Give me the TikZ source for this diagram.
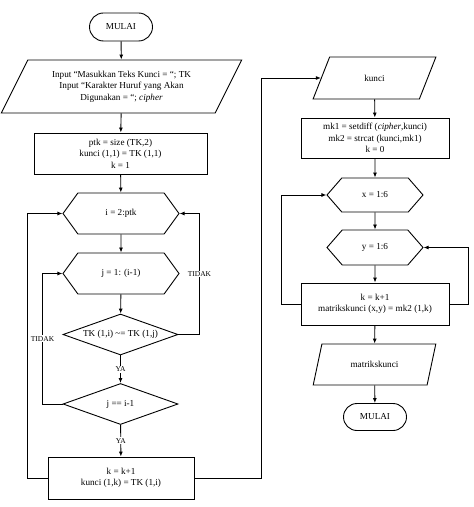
\documentclass[tikz,border=0pt]{standalone}
\usepackage{fontspec}
\setmainfont{Liberation Serif}
\usetikzlibrary{shapes.geometric,shapes.misc,shapes.symbols,arrows.meta}

\begin{document}
\begin{tikzpicture}[x=1bp,y=-1bp,line width=0.9bp,
		base/.style={draw,inner sep=1bp,align=center,font=\fontsize{9.2}{11.5}\selectfont},
		terminal/.style={base,rounded rectangle,minimum width=65bp,minimum height=28bp},
		proses/.style={base,rectangle,minimum height=41bp},
		io/.style={base,trapezium,trapezium stretches=true,minimum height=42bp},
		ulang/.style={base,signal,signal to=east and west,minimum height=41bp},
		cek/.style={base,diamond,aspect=3,inner sep=0pt,minimum width=115bp,minimum height=41bp},
		lbl/.style={fill=white,inner sep=1bp,font=\fontsize{7.5}{9}\selectfont},
		arr/.style={-{Latex[length=5bp,width=4bp]}}]
	\useasboundingbox (0,0) rectangle (474,507);
	% kolom kiri
	\node[terminal] (mulai) at (121,27) {MULAI};
	\node[io,trapezium left angle=59,trapezium right angle=121,minimum width=241bp,minimum height=53bp] (input) at (121.5,86.5) {Input “Masukkan Teks Kunci = “; TK\\Input “Karakter Huruf yang Akan\\Digunakan = “; \textit{cipher}};
	\node[proses,minimum width=173bp] (init) at (120.5,153.5) {ptk = size (TK,2)\\kunci (1,1) = TK (1,1)\\k = 1};
	\node[ulang,signal pointer angle=108,minimum width=116bp] (hexi) at (121,213.5) {i = 2:ptk};
	\node[ulang,signal pointer angle=108,minimum width=116bp] (hexj) at (121,273.5) {j = 1: (i-1)};
	\node[cek] (cekTK) at (120.5,334.5) {TK (1,i) \textasciitilde= TK (1,j)};
	\node[cek] (cekj) at (120.5,404) {j == i-1};
	\node[proses,minimum width=146bp,minimum height=42bp] (tambah) at (121,478) {k = k+1\\kunci (1,k) = TK (1,i)};
	% kolom kanan
	\node[io,trapezium left angle=64,trapezium right angle=116,minimum width=123bp] (kunci) at (374.5,78) {kunci};
	\node[proses,minimum width=148bp,minimum height=40bp] (setdiff) at (375,138) {mk1 = setdiff (\textit{cipher},kunci)\\mk2 = strcat (kunci,mk1)\\k = 0};
	\node[ulang,signal pointer angle=98,minimum width=96bp,minimum height=34bp] (hexx) at (375,195) {x = 1:6};
	\node[ulang,signal pointer angle=98,minimum width=96bp,minimum height=35bp] (hexy) at (375,247.5) {y = 1:6};
	\node[proses,minimum width=148bp,minimum height=42bp] (isi) at (375,304) {k = k+1\\matrikskunci (x,y) = mk2 (1,k)};
	\node[io,trapezium left angle=64,trapezium right angle=116,minimum width=123bp,minimum height=41bp] (matriks) at (374.5,364.5) {matrikskunci};
	\node[terminal,minimum height=27bp] (selesai) at (375,417) {MULAI};
	% alur
	\draw[arr] (mulai) -- (input);
	\draw[arr] (input) -- (init);
	\draw[arr] (init) -- (hexi);
	\draw[arr] (hexi) -- (hexj);
	\draw[arr] (hexj) -- (cekTK);
	\draw[arr] (cekTK) -- node[lbl]{YA} (cekj);
	\draw[arr] (cekj) -- node[lbl]{YA} (tambah);
	\draw[arr] (cekTK.east) -- ++(21,0) |- node[lbl,pos=0.25]{TIDAK} (hexi.east);
	\draw[arr] (cekj.west) -- ++(-20,0) |- node[lbl,pos=0.25]{TIDAK} (hexj.west);
	\draw[arr] (tambah.west) -- ++(-20,0) |- (hexi.west);
	\draw[arr] (tambah.east) -- ++(67,0) |- (kunci.west);
	\draw[arr] (kunci) -- (setdiff);
	\draw[arr] (setdiff) -- (hexx);
	\draw[arr] (hexx) -- (hexy);
	\draw[arr] (hexy) -- (isi);
	\draw[arr] (isi.west) -- ++(-19,0) |- (hexx.west);
	\draw[arr] (isi.east) -- ++(19,0) |- (hexy.east);
	\draw[arr] (isi) -- (matriks);
	\draw[arr] (matriks) -- (selesai);
\end{tikzpicture}
\end{document}
